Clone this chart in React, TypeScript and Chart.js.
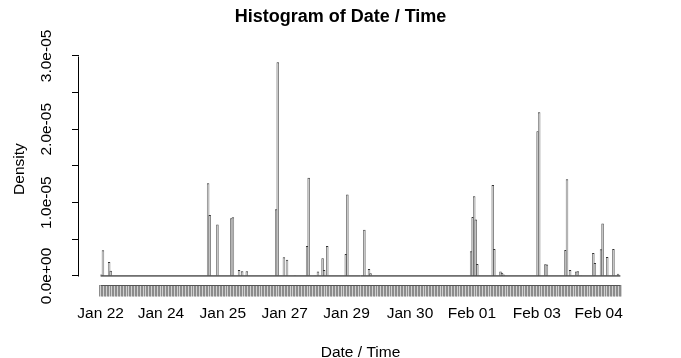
import React, { useEffect, useRef } from 'react';
import { Chart, registerables } from 'chart.js';

Chart.register(...registerables);

// ---- data (hourly bins) ----
const BIN_COUNT = 336;
// indices of non-empty bins
const binIndex = [
  0, 1, 5, 6, 69, 70, 71, 75, 84, 85, 89, 90, 91, 94,
  113, 114, 116, 118, 120, 125, 133, 134, 138, 140, 143, 144, 146,
  158, 159, 168, 169, 170, 173, 174,
  239, 240, 241, 242, 243, 244, 253, 254, 258, 259, 260, 264,
  282, 283, 287, 288, 292, 300, 301, 303, 307, 308, 310, 312,
  318, 319, 323, 324, 326, 327, 331, 334,
];
// density of those bins
const binDensity = [
  0.02e-5, 0.35e-5, 0.19e-5, 0.07e-5, 1.265e-5, 0.83e-5, 0.01e-5, 0.70e-5, 0.787e-5, 0.80e-5, 0.08e-5, 0.01e-5, 0.065e-5, 0.065e-5,
  0.91e-5, 2.915e-5, 0.01e-5, 0.255e-5, 0.22e-5, 0.008e-5, 0.41e-5, 1.34e-5, 0.01e-5, 0.06e-5, 0.24e-5, 0.08e-5, 0.41e-5,
  0.30e-5, 1.11e-5, 0.01e-5, 0.01e-5, 0.63e-5, 0.095e-5, 0.037e-5,
  0.337e-5, 0.805e-5, 1.087e-5, 0.768e-5, 0.164e-5, 0.01e-5, 1.24e-5, 0.368e-5, 0.059e-5, 0.045e-5, 0.02e-5, 0.005e-5,
  1.974e-5, 2.233e-5, 0.16e-5, 0.155e-5, 0.005e-5, 0.355e-5, 1.32e-5, 0.082e-5, 0.059e-5, 0.064e-5, 0.01e-5, 0.005e-5,
  0.314e-5, 0.177e-5, 0.364e-5, 0.714e-5, 0.01e-5, 0.259e-5, 0.368e-5, 0.03e-5,
];

// x tick labels (at bin breaks)
const xLabelBreaks = [0, 39, 79, 119, 159, 200, 240, 282, 322];
const xLabelText = ['Jan 22', 'Jan 24', 'Jan 25', 'Jan 27', 'Jan 29', 'Jan 30', 'Feb 01', 'Feb 03', 'Feb 04'];

// y ticks
const yTickValues = [0, 0.5e-5, 1.0e-5, 1.5e-5, 2.0e-5, 2.5e-5, 3.0e-5];
const yLabelValues = [0, 1.0e-5, 2.0e-5, 3.0e-5];
const yLabelText = ['0.0e+00', '1.0e-05', '2.0e-05', '3.0e-05'];

const TITLE = 'Histogram of Date / Time';
const X_TITLE = 'Date / Time';
const Y_TITLE = 'Density';

const FONT = '"Liberation Sans", Arial, Helvetica, sans-serif';

export default function App() {
  const ref = useRef<HTMLCanvasElement | null>(null);

  useEffect(() => {
    if (!ref.current) return;

    const densityMap = new Map<number, number>();
    binIndex.forEach((k, i) => densityMap.set(k, binDensity[i]));
    const barData: { x: number; y: number }[] = [];
    for (let k = 0; k < BIN_COUNT; k++) {
      barData.push({ x: k + 0.5, y: densityMap.get(k) ?? 0 });
    }
    const xBreaks: number[] = [];
    for (let k = 0; k <= BIN_COUNT; k++) xBreaks.push(k);
    const labelMap = new Map<number, string>();
    xLabelBreaks.forEach((b, i) => labelMap.set(b, xLabelText[i]));

    const maxD = Math.max(...binDensity);
    const ext = 0.04 * maxD;

    const axisPlugin = {
      id: 'rAxes',
      afterDraw(chart: any) {
        const ctx = chart.ctx;
        const xs = chart.scales.x;
        const ys = chart.scales.y;
        const area = chart.chartArea;
        ctx.save();
        // y axis line
        ctx.strokeStyle = '#000';
        ctx.lineWidth = 1;
        ctx.beginPath();
        const ax = Math.round(area.left) - 0.5;
        ctx.moveTo(ax, Math.round(ys.getPixelForValue(yTickValues[0])) + 0.5);
        ctx.lineTo(ax, Math.round(ys.getPixelForValue(yTickValues[yTickValues.length - 1])) + 0.5);
        ctx.stroke();
        // x axis line
        ctx.strokeStyle = '#555';
        ctx.beginPath();
        const ay = Math.round(area.bottom) + 0.5;
        ctx.moveTo(xs.getPixelForValue(0), ay);
        ctx.lineTo(xs.getPixelForValue(BIN_COUNT), ay);
        ctx.stroke();
        // rotated y labels
        ctx.fillStyle = '#000';
        ctx.font = `15.5px ${FONT}`;
        ctx.textAlign = 'center';
        ctx.textBaseline = 'middle';
        yLabelValues.forEach((v, i) => {
          const y = ys.getPixelForValue(v);
          ctx.save();
          ctx.translate(47, y);
          ctx.rotate(-Math.PI / 2);
          ctx.fillText(yLabelText[i], 0, 0);
          ctx.restore();
        });
        ctx.restore();
      },
    };

    const chart = new Chart(ref.current, {
      type: 'bar',
      data: {
        datasets: [
          {
            type: 'line',
            data: [
              { x: 0, y: 0 },
              { x: BIN_COUNT, y: 0 },
            ],
            borderColor: '#000',
            borderWidth: 1,
            pointRadius: 0,
          } as any,
          {
            type: 'bar',
            data: barData,
            backgroundColor: '#c4c4c4',
            borderColor: '#333',
            borderWidth: { top: 1, left: 0.7, right: 0.7, bottom: 0 },
            borderSkipped: false,
            barPercentage: 1.6,
            categoryPercentage: 1,
          } as any,
        ],
      },
      options: {
        responsive: false,
        animation: false,
        devicePixelRatio: 1,
        layout: { padding: 0 },
        plugins: {
          legend: { display: false },
          tooltip: { enabled: false },
          title: {
            display: true,
            text: TITLE,
            color: '#000',
            font: { family: FONT, size: 18, weight: 'bold' },
            padding: { top: 6, bottom: 26 },
          },
        },
        scales: {
          x: {
            type: 'linear',
            min: -0.04 * BIN_COUNT,
            max: BIN_COUNT * 1.04,
            afterBuildTicks: (scale: any) => {
              scale.ticks = xBreaks.map((v) => ({ value: v }));
            },
            afterFit: (scale: any) => {
              scale.height = 73.5;
            },
            border: { display: false },
            grid: {
              display: true,
              drawOnChartArea: false,
              drawTicks: true,
              tickLength: 12,
              color: '#8c8c8c',
              lineWidth: 1.4,
            },
            ticks: {
              autoSkip: false,
              maxRotation: 0,
              minRotation: 0,
              padding: 8,
              color: '#000',
              font: { family: FONT, size: 15.5 },
              callback: (value: any) => labelMap.get(Number(value)) ?? '',
            },
            title: {
              display: true,
              text: X_TITLE,
              color: '#000',
              font: { family: FONT, size: 15.5 },
              padding: { top: 0, bottom: -4.3 },
            },
          },
          y: {
            type: 'linear',
            min: -ext,
            max: maxD + ext,
            afterBuildTicks: (scale: any) => {
              scale.ticks = yTickValues.map((v) => ({ value: v }));
            },
            afterFit: (scale: any) => {
              scale.width = 79;
            },
            border: { display: false },
            grid: {
              display: true,
              drawOnChartArea: false,
              drawTicks: true,
              tickLength: 7,
              color: '#000',
              lineWidth: 1,
            },
            ticks: { display: false },
            title: {
              display: true,
              text: Y_TITLE,
              color: '#000',
              font: { family: FONT, size: 15.5 },
              padding: { top: 10, bottom: 0 },
            },
          },
          yRight: {
            type: 'linear',
            position: 'right',
            display: true,
            afterFit: (scale: any) => {
              scale.width = 39;
            },
            border: { display: false },
            grid: { display: false },
            ticks: { display: false },
          },
        },
      } as any,
      plugins: [axisPlugin],
    });

    return () => chart.destroy();
  }, []);

  return (
    <div style={{ position: 'fixed', left: 0, top: 0, width: 681, height: 358, background: '#fff' }}>
      <canvas ref={ref} width={681} height={358} style={{ display: 'block', width: 681, height: 358 }} />
    </div>
  );
}
